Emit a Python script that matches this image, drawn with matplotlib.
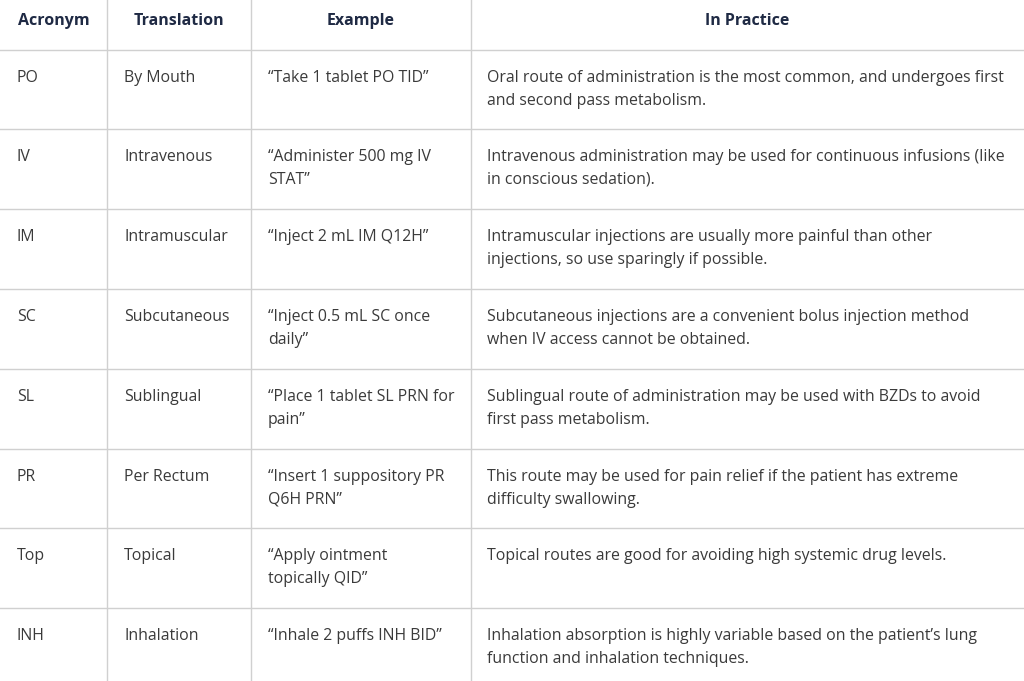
import matplotlib.pyplot as plt

headers = ['Acronym', 'Translation', 'Example', 'In Practice']
acronyms = ['PO', 'IV', 'IM', 'SC', 'SL', 'PR', 'Top', 'INH']
translations = ['By Mouth', 'Intravenous', 'Intramuscular', 'Subcutaneous',
                'Sublingual', 'Per Rectum', 'Topical', 'Inhalation']
examples = ['\u201cTake 1 tablet PO TID\u201d',
            '\u201cAdminister 500 mg IV\nSTAT\u201d',
            '\u201cInject 2 mL IM Q12H\u201d',
            '\u201cInject 0.5 mL SC once\ndaily\u201d',
            '\u201cPlace 1 tablet SL PRN for\npain\u201d',
            '\u201cInsert 1 suppository PR\nQ6H PRN\u201d',
            '\u201cApply ointment\ntopically QID\u201d',
            '\u201cInhale 2 puffs INH BID\u201d']
practice = ['Oral route of administration is the most common, and undergoes first\nand second pass metabolism.',
            'Intravenous administration may be used for continuous infusions (like\nin conscious sedation).',
            'Intramuscular injections are usually more painful than other\ninjections, so use sparingly if possible.',
            'Subcutaneous injections are a convenient bolus injection method\nwhen IV access cannot be obtained.',
            'Sublingual route of administration may be used with BZDs to avoid\nfirst pass metabolism.',
            'This route may be used for pain relief if the patient has extreme\ndifficulty swallowing.',
            'Topical routes are good for avoiding high systemic drug levels.',
            'Inhalation absorption is highly variable based on the patient\u2019s lung\nfunction and inhalation techniques.']

col_edges = [0, 107, 251, 471, 1024]
text_x = [17, 124, 268, 487]
row_lines = [50, 129, 209, 289, 369, 449, 528, 608]

plt.rcParams['font.family'] = ['Open Sans', 'DejaVu Sans']
fig = plt.figure(figsize=(10.24, 6.81), dpi=100)
ax = fig.add_axes([0, 0, 1, 1])
ax.set_xlim(0, 1024)
ax.set_ylim(681, 0)
ax.axis('off')

line_c = '#d0d0d0'
for x in col_edges[1:-1]:
    ax.axvline(x, color=line_c, lw=1)
for y in row_lines:
    ax.axhline(y, color=line_c, lw=1)

for i, h in enumerate(headers):
    cx = (col_edges[i] + col_edges[i + 1]) / 2
    ax.text(cx, 21, h, ha='center', va='center', fontsize=11.5,
            fontweight='bold', color='#1f2a44')

txt_c = '#3a3a3a'
for r in range(len(acronyms)):
    y = row_lines[r] + 20
    cols = [acronyms[r], translations[r], examples[r], practice[r]]
    for c, s in enumerate(cols):
        ax.text(text_x[c], y, s, ha='left', va='top', fontsize=11.4,
                color=txt_c, linespacing=1.55)

fig.savefig('out.png', dpi=100, facecolor='white')
